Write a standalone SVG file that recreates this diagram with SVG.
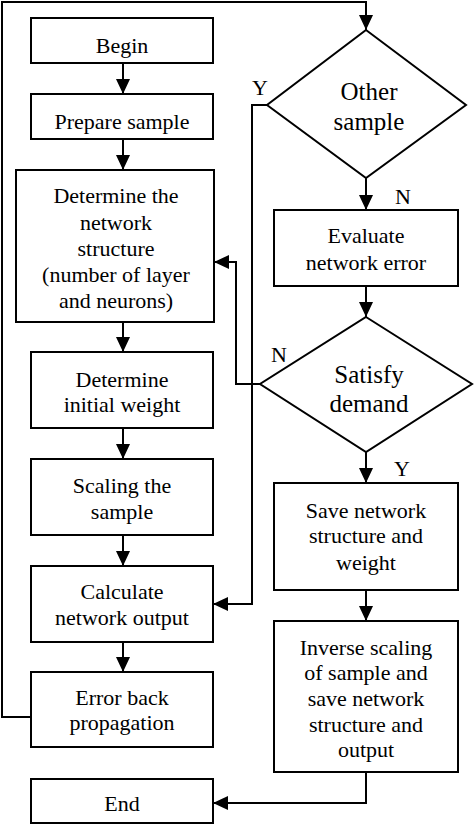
<svg xmlns="http://www.w3.org/2000/svg" width="474" height="827" viewBox="0 0 474 827" font-family="Liberation Serif, Times New Roman, serif">
<style>
.box{fill:#fff;stroke:#000;stroke-width:2}
.t{font-size:22px;fill:#000;text-anchor:middle}
.d{font-size:25px}
.c{fill:none;stroke:#000;stroke-width:2}
</style>
<defs>
<marker id="ah" markerUnits="userSpaceOnUse" markerWidth="15" markerHeight="14" refX="15" refY="7" orient="auto">
<path d="M0,0 L15,7 L0,14 Z" fill="#000"/>
</marker>
</defs>
<rect width="474" height="827" fill="#fff"/>
<g id="connectors">
<path class="c" d="M123,63 V94" marker-end="url(#ah)"/>
<path class="c" d="M123,139 V170" marker-end="url(#ah)"/>
<path class="c" d="M123,322 V352" marker-end="url(#ah)"/>
<path class="c" d="M123,428 V459" marker-end="url(#ah)"/>
<path class="c" d="M123,535 V566" marker-end="url(#ah)"/>
<path class="c" d="M123,642 V672" marker-end="url(#ah)"/>
<path class="c" d="M31,717 H2 V2 H366 V30" marker-end="url(#ah)"/>
<path class="c" d="M366,178 V210" marker-end="url(#ah)"/>
<path class="c" d="M267,105 H252 V604 H213" marker-end="url(#ah)"/>
<path class="c" d="M366,286 V317" marker-end="url(#ah)"/>
<path class="c" d="M260,384 H236 V262 H214" marker-end="url(#ah)"/>
<path class="c" d="M366,452 V483" marker-end="url(#ah)"/>
<path class="c" d="M366,590 V621" marker-end="url(#ah)"/>
<path class="c" d="M366,772 V803 H213" marker-end="url(#ah)"/>
<text class="t" font-family="Liberation Serif, serif" x="260" y="95">Y</text>
<text class="t" font-family="Liberation Serif, serif" x="403" y="204">N</text>
<text class="t" font-family="Liberation Serif, serif" x="279" y="362">N</text>
<text class="t" font-family="Liberation Serif, serif" x="402" y="476">Y</text>
</g>
<g id="begin" font-family="Liberation Serif, serif"><rect class="box" x="31" y="18" width="182" height="45"/><text class="t" x="122" y="53">Begin</text></g>
<g id="prepare" font-family="Liberation Serif, serif"><rect class="box" x="31" y="94" width="182" height="45"/><text class="t" x="122" y="129">Prepare sample</text></g>
<g id="structure" font-family="Liberation Serif, serif"><rect class="box" x="16" y="170" width="198" height="152"/>
<text class="t" x="116" y="203">Determine the</text>
<text class="t" x="116" y="230">network</text>
<text class="t" x="116" y="256">structure</text>
<text class="t" x="116" y="282">(number of layer</text>
<text class="t" x="116" y="308">and neurons)</text></g>
<g id="initial" font-family="Liberation Serif, serif"><rect class="box" x="31" y="352" width="182" height="76"/>
<text class="t" x="122" y="387">Determine</text>
<text class="t" x="122" y="412">initial weight</text></g>
<g id="scaling" font-family="Liberation Serif, serif"><rect class="box" x="31" y="459" width="182" height="76"/>
<text class="t" x="122" y="493">Scaling the</text>
<text class="t" x="122" y="519">sample</text></g>
<g id="calculate" font-family="Liberation Serif, serif"><rect class="box" x="31" y="566" width="182" height="76"/>
<text class="t" x="122" y="599">Calculate</text>
<text class="t" x="122" y="625">network output</text></g>
<g id="errorback" font-family="Liberation Serif, serif"><rect class="box" x="31" y="672" width="182" height="75"/>
<text class="t" x="122" y="705">Error back</text>
<text class="t" x="122" y="730">propagation</text></g>
<g id="end" font-family="Liberation Serif, serif"><rect class="box" x="31" y="779" width="182" height="44"/><text class="t" x="122" y="811">End</text></g>
<g id="other" font-family="Liberation Serif, serif"><polygon class="box" points="366,30 466,105 366,178 267,105"/>
<text class="t d" x="369" y="100">Other</text>
<text class="t d" x="369" y="130">sample</text></g>
<g id="evaluate" font-family="Liberation Serif, serif"><rect class="box" x="274" y="210" width="184" height="76"/>
<text class="t" x="366" y="243">Evaluate</text>
<text class="t" x="366" y="270">network error</text></g>
<g id="satisfy" font-family="Liberation Serif, serif"><polygon class="box" points="366,317 472,384 366,452 260,384"/>
<text class="t d" x="369" y="383">Satisfy</text>
<text class="t d" x="369" y="412">demand</text></g>
<g id="save" font-family="Liberation Serif, serif"><rect class="box" x="274" y="483" width="184" height="107"/>
<text class="t" x="366" y="518">Save network</text>
<text class="t" x="366" y="543">structure and</text>
<text class="t" x="366" y="570">weight</text></g>
<g id="inverse" font-family="Liberation Serif, serif"><rect class="box" x="274" y="621" width="184" height="151"/>
<text class="t" x="366" y="655">Inverse scaling</text>
<text class="t" x="366" y="680">of sample and</text>
<text class="t" x="366" y="706">save network</text>
<text class="t" x="366" y="732">structure and</text>
<text class="t" x="366" y="757">output</text></g>
</svg>
